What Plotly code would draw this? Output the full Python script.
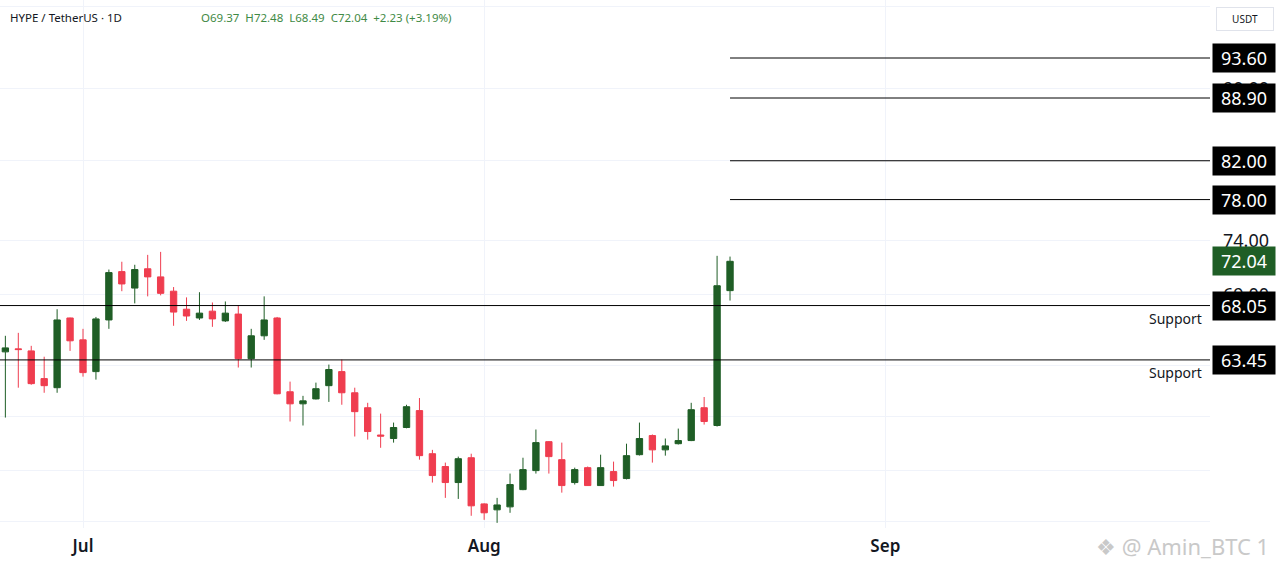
import math

import pandas as pd
import plotly.graph_objects as go

# daily candles, HYPE / USDT
dates = pd.date_range("2025-06-25", "2025-08-20", freq="D")
opens = [64.11, 64.36, 64.19, 61.94, 61.22, 66.97,
         65.11, 62.50, 66.80, 71.09, 69.60, 71.35, 70.61, 69.32, 67.73, 66.97,
         67.56, 66.72, 67.31, 63.55, 65.45, 66.97, 60.90, 59.96, 60.34, 61.38,
         62.50, 60.82, 59.66, 57.60, 57.34, 58.16, 59.44, 56.23, 55.31, 54.18,
         55.94,
         52.71, 52.31, 52.51, 53.69, 55.02, 57.11, 55.80, 54.18, 55.23, 53.97,
         54.95, 54.46, 56.16, 57.56, 56.51, 56.96, 57.19, 59.66, 58.31, 69.37]
highs = [65.45, 65.70, 64.61, 63.71, 67.73, 67.00,
         66.04, 67.06, 71.28, 72.00, 71.72, 72.64, 72.92, 69.69, 68.77, 69.23,
         68.32, 68.41, 68.07, 66.04, 68.86, 67.06, 61.70, 60.58, 61.62, 63.07,
         63.48, 61.22, 60.04, 59.21, 58.53, 59.89, 60.41, 56.51, 55.59, 56.02,
         56.23,
         52.75, 53.12, 54.81, 55.94, 58.01, 57.15, 57.04, 55.23, 55.31, 56.16,
         55.66, 56.96, 58.53, 57.64, 57.34, 58.08, 60.04, 60.49, 72.55, 72.48]
lows = [58.91, 61.22, 61.45, 60.82, 60.82, 64.19,
        62.10, 61.86, 66.04, 69.32, 68.24, 68.86, 68.95, 66.30, 66.72, 66.80,
        66.21, 66.63, 62.83, 62.83, 65.11, 60.70, 58.61, 58.31, 60.30, 60.11,
        59.89, 57.49, 57.26, 56.66, 57.04, 58.10, 55.80, 54.18, 53.12, 53.05,
        51.91,
        51.64, 51.44, 52.11, 53.65, 54.81, 54.81, 53.48, 54.04, 53.95, 53.95,
        53.90, 54.40, 56.10, 55.59, 56.09, 56.90, 57.15, 58.38, 58.23, 68.49]
closes = [64.44, 64.30, 61.54, 61.38, 66.80, 65.03,
          62.42, 66.89, 71.00, 69.97, 71.28, 70.61, 69.13, 67.48, 67.14, 67.39,
          66.89, 67.39, 63.55, 65.45, 66.80, 60.74, 59.96, 60.19, 61.14, 62.67,
          60.82, 59.36, 57.86, 57.52, 58.16, 59.74, 56.09, 54.67, 54.18, 55.87,
          52.58,
          52.11, 52.64, 54.04, 55.09, 57.04, 56.02, 53.97, 55.09, 53.97, 55.23,
          54.32, 56.09, 57.34, 56.51, 56.80, 57.19, 59.51, 58.61, 69.81, 72.04]

# drawn levels
resistance_levels = [93.60, 88.90, 82.00, 78.00]
support_levels = [68.05, 63.45]

# price scale grid (log); 90.00 and 69.00 peek out from behind the level boxes
grid_values = [100, 90, 82, 74, 69, 63, 59, 55, 51.5]
grid_labels = ["", "90.00", "", "74.00", "69.00", "", "", "", ""]

GREEN = "#1f5e26"
RED = "#ef3d4f"
INK = "#131722"
FONT = "Noto Sans"
PLOT_W, PLOT_H = 1210, 528

x_start = pd.Timestamp("2025-06-24 14:04")
x_end = pd.Timestamp("2025-09-26 02:10")

fig = go.Figure(
    go.Candlestick(
        x=dates,
        open=opens,
        high=highs,
        low=lows,
        close=closes,
        increasing=dict(line=dict(color=GREEN, width=1), fillcolor=GREEN),
        decreasing=dict(line=dict(color=RED, width=1), fillcolor=RED),
        whiskerwidth=0,
        showlegend=False,
        hoverinfo="skip",
    )
)

# resistance lines start at the last candle, supports run across the chart
for level in resistance_levels:
    fig.add_shape(type="line", xref="x", yref="y", x0=dates[-1], x1=x_end,
                  y0=level, y1=level, line=dict(color="#000000", width=1))
for level in support_levels:
    fig.add_shape(type="line", xref="paper", yref="y", x0=0, x1=1,
                  y0=level, y1=level, line=dict(color="#000000", width=1))
    fig.add_annotation(x=1, xref="paper", xanchor="right", xshift=-6,
                       y=math.log10(level), yref="y", yanchor="top", yshift=-1,
                       text="Support", showarrow=False,
                       font=dict(family=FONT, size=14, color=INK))

# price boxes on the scale
for level in resistance_levels + support_levels + [closes[-1]]:
    fig.add_annotation(x=1, xref="paper", xanchor="left", xshift=2,
                       y=math.log10(level), yref="y",
                       text=f"{level:.2f}", showarrow=False,
                       width=60, height=26, align="center", borderpad=1,
                       bgcolor=GREEN if level == closes[-1] else "#000000",
                       font=dict(family=FONT, size=18, color="#ffffff"))

# header
change = closes[-1] - closes[-2]
ohlc = (f"O{opens[-1]:.2f}  H{highs[-1]:.2f}  L{lows[-1]:.2f}  C{closes[-1]:.2f}  "
        f"+{change:.2f} (+{change / closes[-2] * 100:.2f}%)")
fig.add_annotation(x=8 / PLOT_W, xref="paper", xanchor="left",
                   y=1 - 17 / PLOT_H, yref="paper", yanchor="middle",
                   text="HYPE / TetherUS · 1D", showarrow=False,
                   font=dict(family=FONT, size=11.5, color=INK))
fig.add_annotation(x=199 / PLOT_W, xref="paper", xanchor="left",
                   y=1 - 17 / PLOT_H, yref="paper", yanchor="middle",
                   text=ohlc, showarrow=False,
                   font=dict(family=FONT, size=11.5, color="#3f8a45"))
fig.add_annotation(x=1, xref="paper", xanchor="left", xshift=6,
                   y=1 - 19 / PLOT_H, yref="paper", yanchor="middle",
                   text="USDT", showarrow=False, width=52, height=18,
                   bordercolor="#e0e3eb", borderwidth=1, borderpad=2,
                   font=dict(family=FONT, size=10, color=INK))
# watermark
fig.add_annotation(x=1, xref="paper", xanchor="right", xshift=61, y=0, yref="paper",
                   yanchor="top", yshift=-1, text="❖ @ Amin_BTC 1", showarrow=False,
                   font=dict(family=FONT, size=22, color="#c9c9c9"))

fig.update_layout(
    width=1280,
    height=565,
    margin=dict(l=0, r=70, t=0, b=37),
    paper_bgcolor="white",
    plot_bgcolor="white",
    font=dict(family=FONT, color=INK),
    xaxis=dict(
        range=[x_start, x_end],
        rangeslider=dict(visible=False),
        tickvals=["2025-07-01", "2025-08-01", "2025-09-01"],
        ticktext=["Jul", "Aug", "Sep"],
        tickfont=dict(size=17, color=INK, weight=600),
        ticklabelstandoff=6,
        showgrid=True,
        gridcolor="#f0f3fa",
        zeroline=False,
        showline=False,
        ticks="",
    ),
    yaxis=dict(
        type="log",
        side="right",
        range=[math.log10(51.1), math.log10(100.86)],
        tickvals=grid_values,
        ticktext=grid_labels,
        tickfont=dict(size=18, color=INK),
        ticklabelstandoff=12,
        showgrid=True,
        gridcolor="#f0f3fa",
        zeroline=False,
        showline=False,
        ticks="",
    ),
)

# drop the default page margin so the figure sits at the window's corner
fig.write_html("out.html", config={"displayModeBar": False},
               post_script="document.body.style.margin = '0';")
